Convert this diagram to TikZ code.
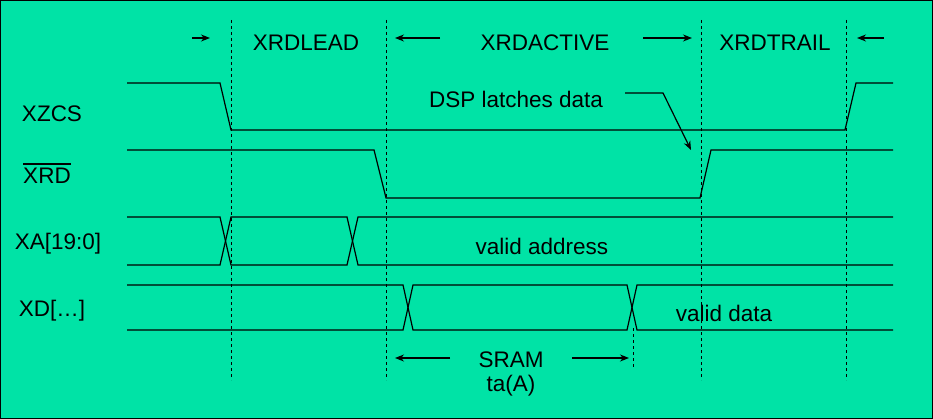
\documentclass[tikz,border=0pt]{standalone}
\usepackage{fontspec}
\setmainfont{Liberation Sans}
\usetikzlibrary{arrows.meta}
\definecolor{bg}{RGB}{0,227,166}
\begin{document}
\begin{tikzpicture}[x=1pt,y=-1pt,
  sig/.style={line width=1.2pt},
  guide/.style={dashed,line width=0.8pt},
  arr/.style={line width=1.2pt,-{Stealth[length=9pt,width=7pt]}},
  lbl/.style={font=\fontsize{22.5}{26}\selectfont,inner sep=0pt}]
\fill[bg,draw=black,line width=1pt] (0.5,0.5) rectangle (932.5,418.5);
\useasboundingbox (0,0) rectangle (933,419);
% guides
\foreach \x/\n in {231/g1,386/g2,701/g3,846/g4}{
  \coordinate (\n t) at (\x,20); \coordinate (\n b) at (\x,380);
  \draw[guide] (\n t) -- (\n b);}
% top labels
\node[lbl] (lead) at (306,43) {XRDLEAD};
\node[lbl] (act) at (545,43) {XRDACTIVE};
\node[lbl] (trail) at (775,43) {XRDTRAIL};
\coordinate (a1s) at (192,38); \coordinate (a1e) at (210,38);
\coordinate (a2s) at (440,38); \coordinate (a2e) at (395,38);
\coordinate (a3s) at (643,38); \coordinate (a3e) at (692,38);
\coordinate (a4s) at (884,38); \coordinate (a4e) at (857,38);
\draw[arr] (a1s) -- (a1e);
\draw[arr] (a2s) -- (a2e);
\draw[arr] (a3s) -- (a3e);
\draw[arr] (a4s) -- (a4e);
% signal labels
\node[lbl] (lzcs) at (52,114) {XZCS};
\node[lbl] (lrd) at (47,176) {XRD};
\draw[line width=1.2pt] ([yshift=4pt]lrd.north west) -- ([yshift=4pt]lrd.north east);
\node[lbl] (lxa) at (58,244) {XA[19:0]};
\node[lbl] (lxd) at (52,311) {XD[…]};
% XZCS
\draw[sig] (127,83) -- (220,83) -- (231,130) -- (845,130) -- (856,83) -- (893,83);
% XRD
\draw[sig] (127,150) -- (374,150) -- (386,198) -- (700,198) -- (711,150) -- (893,150);
% XA
\draw[sig] (127,217) -- (220,217) -- (231,265) -- (347,265) -- (358,217) -- (893,217);
\draw[sig] (127,265) -- (220,265) -- (231,217) -- (347,217) -- (358,265) -- (893,265);
\node[lbl] (va) at (542,246) {valid address};
% XD
\draw[sig] (127,285) -- (403,285) -- (413,330) -- (627,330) -- (637,285) -- (893,285);
\draw[sig] (127,330) -- (403,330) -- (413,285) -- (627,285) -- (637,330) -- (893,330);
\node[lbl] (vd) at (724,313) {valid data};
% DSP latches
\node[lbl] (dsp) at (516,99) {DSP latches data};
\coordinate (k) at (663,93);
\coordinate (tip) at (691,150);
\draw[arr] (625,93) -- (k) -- (tip);
% SRAM
\coordinate (s1) at (633,328); \coordinate (s2) at (633,368);
\draw[guide] (s1) -- (s2);
\node[lbl] (sram) at (511,360) {SRAM};
\node[lbl] (ta) at (511,386) {ta(A)};
\draw[arr] (450,358) -- (395,358);
\draw[arr] (572,358) -- (629,358);
\end{tikzpicture}
\end{document}
